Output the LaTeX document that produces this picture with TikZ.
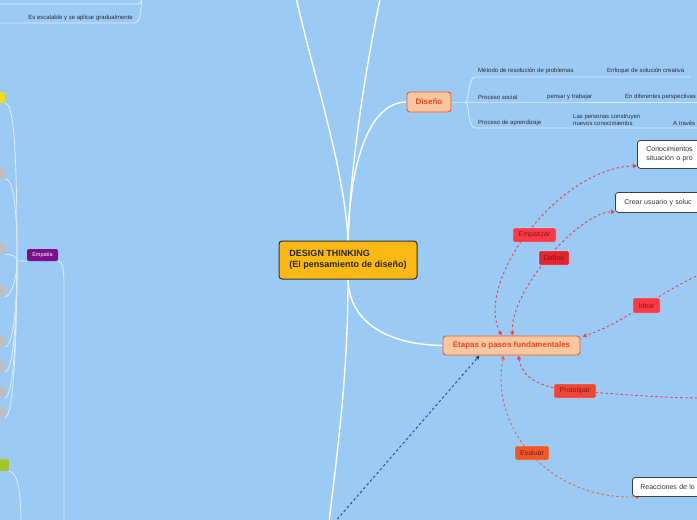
\documentclass[tikz,border=0pt]{standalone}
\usepackage{fontspec}
\setmainfont{Liberation Sans}
\usetikzlibrary{calc,arrows.meta}
\definecolor{bgblue}{RGB}{155,202,245}
\definecolor{amber}{RGB}{253,185,19}
\definecolor{peach}{RGB}{247,200,160}
\definecolor{topicborder}{RGB}{240,90,40}
\definecolor{topictext}{RGB}{235,70,30}
\definecolor{tagred}{RGB}{255,58,68}
\definecolor{tagdark}{RGB}{230,36,46}
\definecolor{tagproto}{RGB}{240,70,55}
\definecolor{tagorange}{RGB}{242,88,38}
\definecolor{tagtext}{RGB}{110,30,35}
\definecolor{linkred}{RGB}{232,70,80}
\definecolor{linkorange}{RGB}{238,100,70}
\definecolor{linkblue}{RGB}{40,70,130}
\definecolor{stubgray}{RGB}{190,190,190}
\definecolor{yellowstub}{RGB}{240,222,30}
\definecolor{olivestub}{RGB}{165,195,45}
\definecolor{empurple}{RGB}{125,15,140}
\definecolor{sublinec}{RGB}{220,236,252}
\definecolor{leaftext}{RGB}{45,45,50}
\pgfdeclarelayer{bg}
\pgfdeclarelayer{lines}
\pgfsetlayers{bg,lines,main}
\tikzset{
  ltip/.tip={Triangle[length=4pt,width=4pt]},
  mainnode/.style={draw=black!80, line width=1pt, rounded corners=3pt, fill=amber,
    font=\fontsize{9}{10.5}\selectfont\bfseries, text=black!85, align=left},
  topic/.style={draw=topicborder, line width=0.9pt, rounded corners=3pt, fill=peach,
    text=topictext, font=\fontsize{8}{9}\selectfont\bfseries, inner sep=0pt},
  tag/.style={rounded corners=2pt, inner sep=0pt, font=\fontsize{7}{8}\selectfont,
    text=tagtext, draw=white, draw opacity=0.25, line width=0.6pt},
  wbox/.style={draw=black!75, line width=0.8pt, fill=white, rounded corners=3pt,
    font=\fontsize{7}{8.5}\selectfont, text=black!80, align=left, inner xsep=9pt,
    inner ysep=0pt, anchor=north west},
  leaf/.style={font=\fontsize{6}{7}\selectfont, text=leaftext, anchor=west, inner sep=0pt, align=left},
  stub/.style={rounded corners=2pt, inner sep=0pt, anchor=north east},
  mainline/.style={white, line width=1.4pt},
  subline/.style={sublinec, line width=0.8pt},
  link/.style={dash pattern=on 2.5pt off 2.5pt, line width=0.9pt}
}
\begin{document}
\begin{tikzpicture}[x=1pt,y=-1pt]
\begin{pgfonlayer}{bg}
\fill[bgblue] (0,0) rectangle (697,520);
\end{pgfonlayer}
\useasboundingbox (0,0) rectangle (697,520);

% ---------- central and topic nodes
\node[mainnode, minimum width=138pt, minimum height=38pt, inner sep=0pt] (dt) at (348,260)
  {DESIGN THINKING\\(El pensamiento de diseño)};
\node[topic, minimum width=44pt, minimum height=20pt] (dis) at (429,102) {Diseño};
\node[topic, minimum width=137pt, minimum height=19pt] (eta) at (511.5,345.5) {Etapas o pasos fundamentales};

% ---------- Diseño leaves
\node[leaf] (t1a) at (478,71) {Método de resolución de problemas};
\node[leaf] (t1b) at (607,71) {Enfoque de solución creativa};
\node[leaf] (t2a) at (478,97) {Proceso social};
\node[leaf] (t2b) at (547,97) {pensar y trabajar};
\node[leaf] (t2c) at (625,97) {En diferentes perspectivas};
\node[leaf] (t3a) at (478,123) {Proceso de aprendizaje};
\node[leaf] (t3b) at (573,119.5) {Las personas construyen\\nuevos conocimientos};
\node[leaf] (t3c) at (673,123) {A través};

% ---------- stage tags
\node[tag, fill=tagred, minimum width=43pt, minimum height=14pt] (emp) at (534.5,235) {Empatizar};
\node[tag, fill=tagdark, minimum width=30pt, minimum height=14pt] (def) at (554,258) {Definir};
\node[tag, fill=tagred, minimum width=27pt, minimum height=15pt] (ide) at (646.5,305.5) {Idear};
\node[tag, fill=tagproto, minimum width=42pt, minimum height=14pt] (pro) at (575,391) {Prototipar};
\node[tag, fill=tagorange, minimum width=34pt, minimum height=14pt] (eva) at (532,453) {Evaluar};

% ---------- white boxes
\node[wbox, minimum height=28pt, text width=110pt] (con) at (637,140) {Conocimientos\\situación o pro};
\node[wbox, minimum height=20pt, text width=110pt] (cre) at (615,192) {Crear usuario y soluc};
\node[wbox, minimum height=19pt, text width=110pt, inner xsep=8pt] (rea) at (632,477) {Reacciones de lo};

% ---------- left side
\node[stub, fill=yellowstub, minimum width=15pt, minimum height=11pt] (y1) at (5,92) {};
\node[stub, fill=stubgray, minimum width=15pt, minimum height=11pt] (g1) at (5,167.5) {};
\node[stub, fill=stubgray, minimum width=15pt, minimum height=11pt] (g2) at (5,243) {};
\node[stub, fill=stubgray, minimum width=15pt, minimum height=11pt] (g3) at (5,285.5) {};
\node[stub, fill=stubgray, minimum width=15pt, minimum height=11pt] (g4) at (5,335.5) {};
\node[stub, fill=stubgray, minimum width=15pt, minimum height=11pt] (g5) at (5,360.5) {};
\node[stub, fill=stubgray, minimum width=15pt, minimum height=11pt] (g6) at (5,386.5) {};
\node[stub, fill=stubgray, minimum width=15pt, minimum height=11pt] (g7) at (5,406.5) {};
\node[stub, fill=olivestub, minimum width=20pt, minimum height=12pt] (ol) at (9,459) {};
\node[rounded corners=2pt, inner sep=0pt, fill=empurple, text=white, font=\fontsize{5.5}{6}\selectfont,
  minimum width=31pt, minimum height=12pt] (empa) at (42.5,255) {Empatía};

% top-left leaf
\node[leaf, anchor=east] (esc) at (133,18) {Es escalable y se aplicar gradualmente};

% ---------- free ends
\coordinate (topL) at (296,-3);
\coordinate (topR) at (380.5,-3);
\coordinate (botC) at (329,523);
\coordinate (blueStart) at (334,523);
\coordinate (ideEnd) at (705,272);
\coordinate (proEnd) at (705,398);
\coordinate (T) at (17,261);
\coordinate (disfork) at ($(dis.east)+(14,0)$);
\coordinate (empDown) at (64,523);
\coordinate (olDown) at (21,523);
\coordinate (tlA) at (143,-8);
\coordinate (tlB) at (142,-8);

\begin{pgfonlayer}{lines}
% main branches
\draw[mainline] (dt.north) .. controls (345,170) and (312,70) .. (topL);
\draw[mainline] (dt.north) .. controls (350,170) and (365,70) .. (topR);
\draw[mainline] (dt.north) .. controls (350,160) and (370,102) .. (dis.west);
\draw[mainline] (dt.south) .. controls (350,330) and (400,345) .. (eta.west);
\draw[mainline] (dt.south) .. controls (348,380) and (336,460) .. (botC);

% Diseño sub-branches
\draw[subline] (dis.east) -- (disfork) -- (700,102);
\draw[subline] (disfork) .. controls (469,102) and (468,77) .. (475,77) -- (690,77);
\draw[subline] (disfork) .. controls (469,102) and (468,128) .. (475,128) -- (700,128);

% top-left underlines
\draw[subline] (-5,4) -- (137,4) .. controls (141,4) and (142,0) .. (tlA);
\draw[subline] (-5,23) -- (134,23) .. controls (140,23) and (141,15) .. (tlB);

% left trunk
\draw[subline] (empa.south west) -- (T);
\draw[subline] (y1.south east) .. controls (14,103) and (17,150) .. (T);
\draw[subline] (g1.south east) .. controls (14,178.5) and (17,210) .. (T);
\draw[subline] (g2.south east) .. controls (12,254) and (17,257) .. (T);
\draw[subline] (g3.south east) .. controls (12,296.5) and (17,275) .. (T);
\draw[subline] (g4.south east) .. controls (14,346.5) and (17,300) .. (T);
\draw[subline] (g5.south east) .. controls (14,371.5) and (17,310) .. (T);
\draw[subline] (g6.south east) .. controls (14,397.5) and (17,320) .. (T);
\draw[subline] (g7.south east) .. controls (14,417.5) and (17,330) .. (T);
\draw[subline] (empa.south east) .. controls (63,261) and (64,270) .. (64,290) -- (empDown);
\draw[subline] (ol.south east) .. controls (17,471) and (21,490) .. (olDown);

% stage links
\draw[link, linkred, {ltip}-{ltip}] ($(eta.north)+(-10,0)$) .. controls (474,280) and (560,168) .. ($(con.south west)+(0,-3)$);
\draw[link, linkred, {ltip}-{ltip}] ($(eta.north)+(1,0)$) .. controls (510,290) and (580,212) .. ($(cre.south west)+(0,-1)$);
\draw[link, linkred, -{ltip}] (ideEnd) .. controls (660,292) and (620,325) .. ($(eta.north east)+(2,1)$);
\draw[link, linkred, {ltip}-] ($(eta.south)+(7,0)$) .. controls (522,378) and (540,388) .. (pro.center)
  .. controls (620,394) and (660,398) .. (proEnd);
\draw[link, linkorange, {ltip}-{ltip}] ($(eta.south)+(-8,0)$) .. controls (490,430) and (550,500) .. ($(rea.south west)+(8,0)$);
\draw[link, linkblue, -{ltip}] (blueStart) -- ($(eta.south west)+(37,0)$);
\end{pgfonlayer}
\end{tikzpicture}
\end{document}
